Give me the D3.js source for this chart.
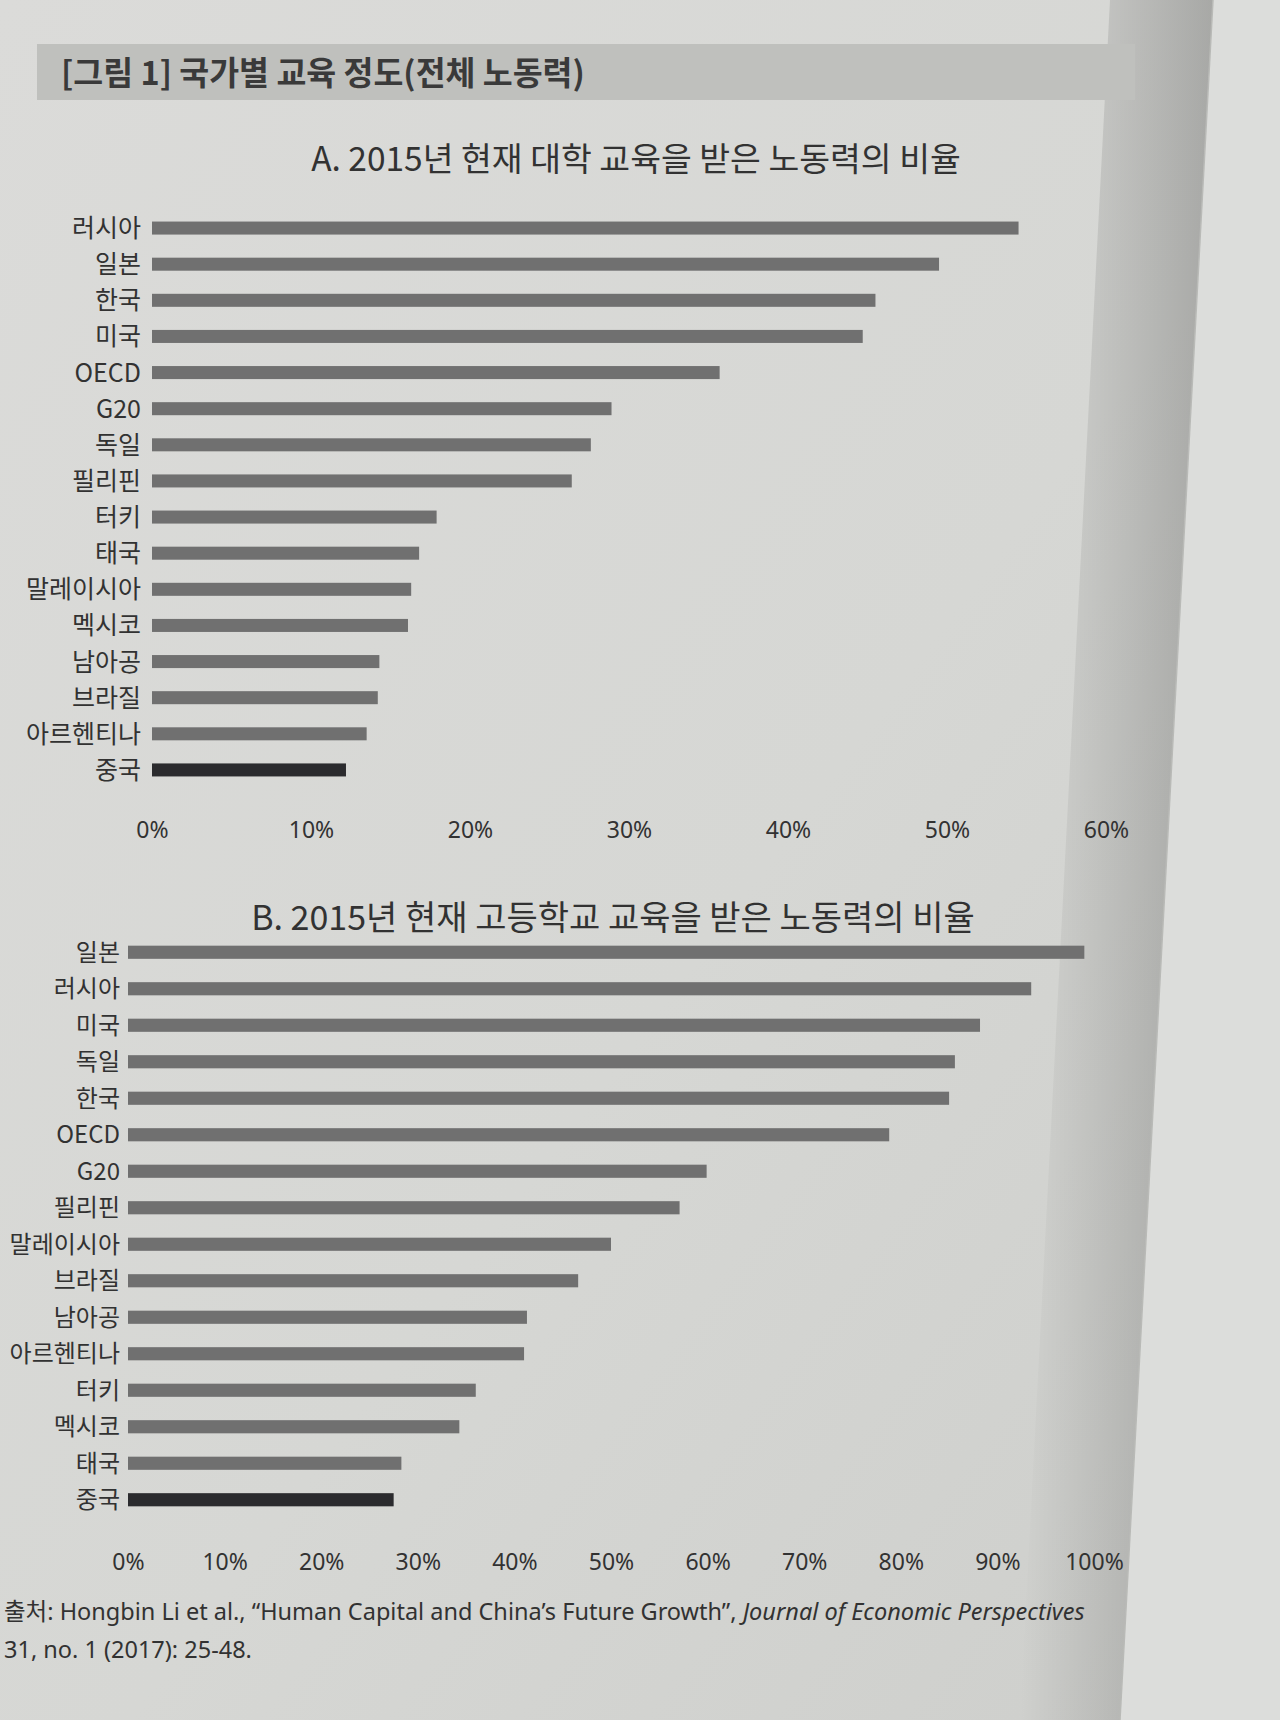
<!DOCTYPE html>
<html>
<head>
<meta charset="utf-8">
<script src="https://cdn.jsdelivr.net/npm/d3@7"></script>
<style>
  html, body { margin: 0; padding: 0; background: #d5d6d3; }
  svg { display: block; }
</style>
</head>
<body>
<svg id="chart" width="1280" height="1720"></svg>
<script>
// ---------------- data ----------------
const figureTitle = "[그림 1] 국가별 교육 정도(전체 노동력)";
const titleA = "A. 2015년 현재 대학 교육을 받은 노동력의 비율";
const titleB = "B. 2015년 현재 고등학교 교육을 받은 노동력의 비율";

const categoriesA = ["러시아","일본","한국","미국","OECD","G20","독일","필리핀","터키","태국","말레이시아","멕시코","남아공","브라질","아르헨티나","중국"];
const valuesA     = [54.5, 49.5, 45.5, 44.7, 35.7, 28.9, 27.6, 26.4, 17.9, 16.8, 16.3, 16.1, 14.3, 14.2, 13.5, 12.2];
const ticksA      = [0, 10, 20, 30, 40, 50, 60];

const categoriesB = ["일본","러시아","미국","독일","한국","OECD","G20","필리핀","말레이시아","브라질","남아공","아르헨티나","터키","멕시코","태국","중국"];
const valuesB     = [99.0, 93.5, 88.2, 85.6, 85.0, 78.8, 59.9, 57.1, 50.0, 46.6, 41.3, 41.0, 36.0, 34.3, 28.3, 27.5];
const ticksB      = [0, 10, 20, 30, 40, 50, 60, 70, 80, 90, 100];

const highlight = "중국";
const sourceLine1 = "출처: Hongbin Li et al., “Human Capital and China’s Future Growth”, ";
const sourceJournal = "Journal of Economic Perspectives";
const sourceLine2 = "31, no. 1 (2017): 25-48.";

// ---------------- drawing ----------------
const svg = d3.select("#chart");
const W = 1280, H = 1720;
const KR = "'Noto Sans CJK KR', 'Noto Sans', sans-serif";
const LAT = "'Noto Sans', 'Noto Sans CJK KR', sans-serif";
const ink = "#323232";
const barColor = "#707070";
const darkBar = "#2b2b2e";

const defs = svg.append("defs");
const pg = defs.append("linearGradient").attr("id", "paper").attr("x1", 0).attr("y1", 0).attr("x2", 1).attr("y2", 1);
pg.append("stop").attr("offset", "0%").attr("stop-color", "#dbdbd9");
pg.append("stop").attr("offset", "55%").attr("stop-color", "#d6d7d4");
pg.append("stop").attr("offset", "100%").attr("stop-color", "#cdcecb");
const sh = defs.append("linearGradient").attr("id", "shadow").attr("x1", 0).attr("y1", 0).attr("x2", 1).attr("y2", 0);
sh.append("stop").attr("offset", "0%").attr("stop-color", "#000").attr("stop-opacity", 0);
sh.append("stop").attr("offset", "100%").attr("stop-color", "#000").attr("stop-opacity", 0.22);

// paper
svg.append("rect").attr("width", W).attr("height", H).attr("fill", "url(#paper)");
// shadow toward spine
svg.append("polygon")
  .attr("points", "1110,0 1213,0 1120,1720 1020,1720")
  .attr("fill", "url(#shadow)");
// next page
svg.append("polygon")
  .attr("points", "1213,0 1280,0 1280,1720 1120,1720")
  .attr("fill", "#dcdddb");
svg.append("line").attr("x1", 1213).attr("y1", 0).attr("x2", 1120).attr("y2", 1720)
  .attr("stroke", "#b9bab7").attr("stroke-width", 1.5);

// figure title band
svg.append("rect").attr("x", 37).attr("y", 44).attr("width", 1098).attr("height", 56).attr("fill", "#bfc0bd");
svg.append("text").attr("x", 61).attr("y", 85)
  .attr("font-family", KR).attr("font-size", 32.5).attr("font-weight", 700).attr("fill", "#3a3a3a")
  .text(figureTitle);

function panel(cfg) {
  const x = d3.scaleLinear().domain(cfg.domain).range(cfg.xRange);
  const y = d3.scaleBand().domain(cfg.categories).range(cfg.yRange).paddingInner(0.64).paddingOuter(0.32);

  svg.append("text")
    .attr("x", cfg.titleX).attr("y", cfg.titleY).attr("text-anchor", "middle")
    .attr("font-family", KR).attr("font-size", cfg.titleSize).attr("fill", ink)
    .text(cfg.title);

  const g = svg.append("g");
  g.selectAll("rect.bar")
    .data(cfg.categories.map((c, i) => ({ c, v: cfg.values[i] })))
    .join("rect")
    .attr("class", "bar")
    .attr("x", x(0))
    .attr("y", d => y(d.c))
    .attr("width", d => x(d.v) - x(0))
    .attr("height", y.bandwidth())
    .attr("fill", d => d.c === highlight ? darkBar : barColor);

  const yAxis = svg.append("g")
    .attr("transform", `translate(${x(0)},0)`)
    .call(d3.axisLeft(y).tickSize(0).tickPadding(cfg.labelPad));
  yAxis.select(".domain").remove();
  yAxis.selectAll("text")
    .attr("font-family", KR).attr("font-size", cfg.labelSize).attr("fill", ink).attr("dy", "0.36em");

  const xAxis = svg.append("g")
    .attr("transform", `translate(0,${cfg.axisY})`)
    .call(d3.axisBottom(x).tickValues(cfg.ticks).tickFormat(d => d + "%").tickSize(0).tickPadding(0));
  xAxis.select(".domain").remove();
  xAxis.selectAll("text")
    .attr("font-family", LAT).attr("font-size", 23).attr("fill", ink).attr("dy", "0.36em");
}

panel({
  title: titleA, titleX: 636, titleY: 171, titleSize: 33.5,
  categories: categoriesA, values: valuesA, ticks: ticksA,
  domain: [0, 60], xRange: [152, 1106],
  yRange: [210, 788], axisY: 830,
  labelSize: 25, labelPad: 11
});

panel({
  title: titleB, titleX: 613, titleY: 930, titleSize: 34,
  categories: categoriesB, values: valuesB, ticks: ticksB,
  domain: [0, 100], xRange: [128, 1094],
  yRange: [934, 1518], axisY: 1562,
  labelSize: 24, labelPad: 8
});

// source
const s1 = svg.append("text").attr("x", 4).attr("y", 1620)
  .attr("font-family", LAT).attr("font-size", 23.5).attr("fill", ink);
s1.append("tspan").text(sourceLine1);
s1.append("tspan").attr("font-style", "italic").text(sourceJournal);
const target = 1090;
const len = s1.node().getComputedTextLength();
if (len > target) {
  s1.attr("textLength", target).attr("lengthAdjust", "spacingAndGlyphs");
}
svg.append("text").attr("x", 4).attr("y", 1658)
  .attr("font-family", LAT).attr("font-size", 23.5).attr("fill", ink)
  .text(sourceLine2);
</script>
</body>
</html>
